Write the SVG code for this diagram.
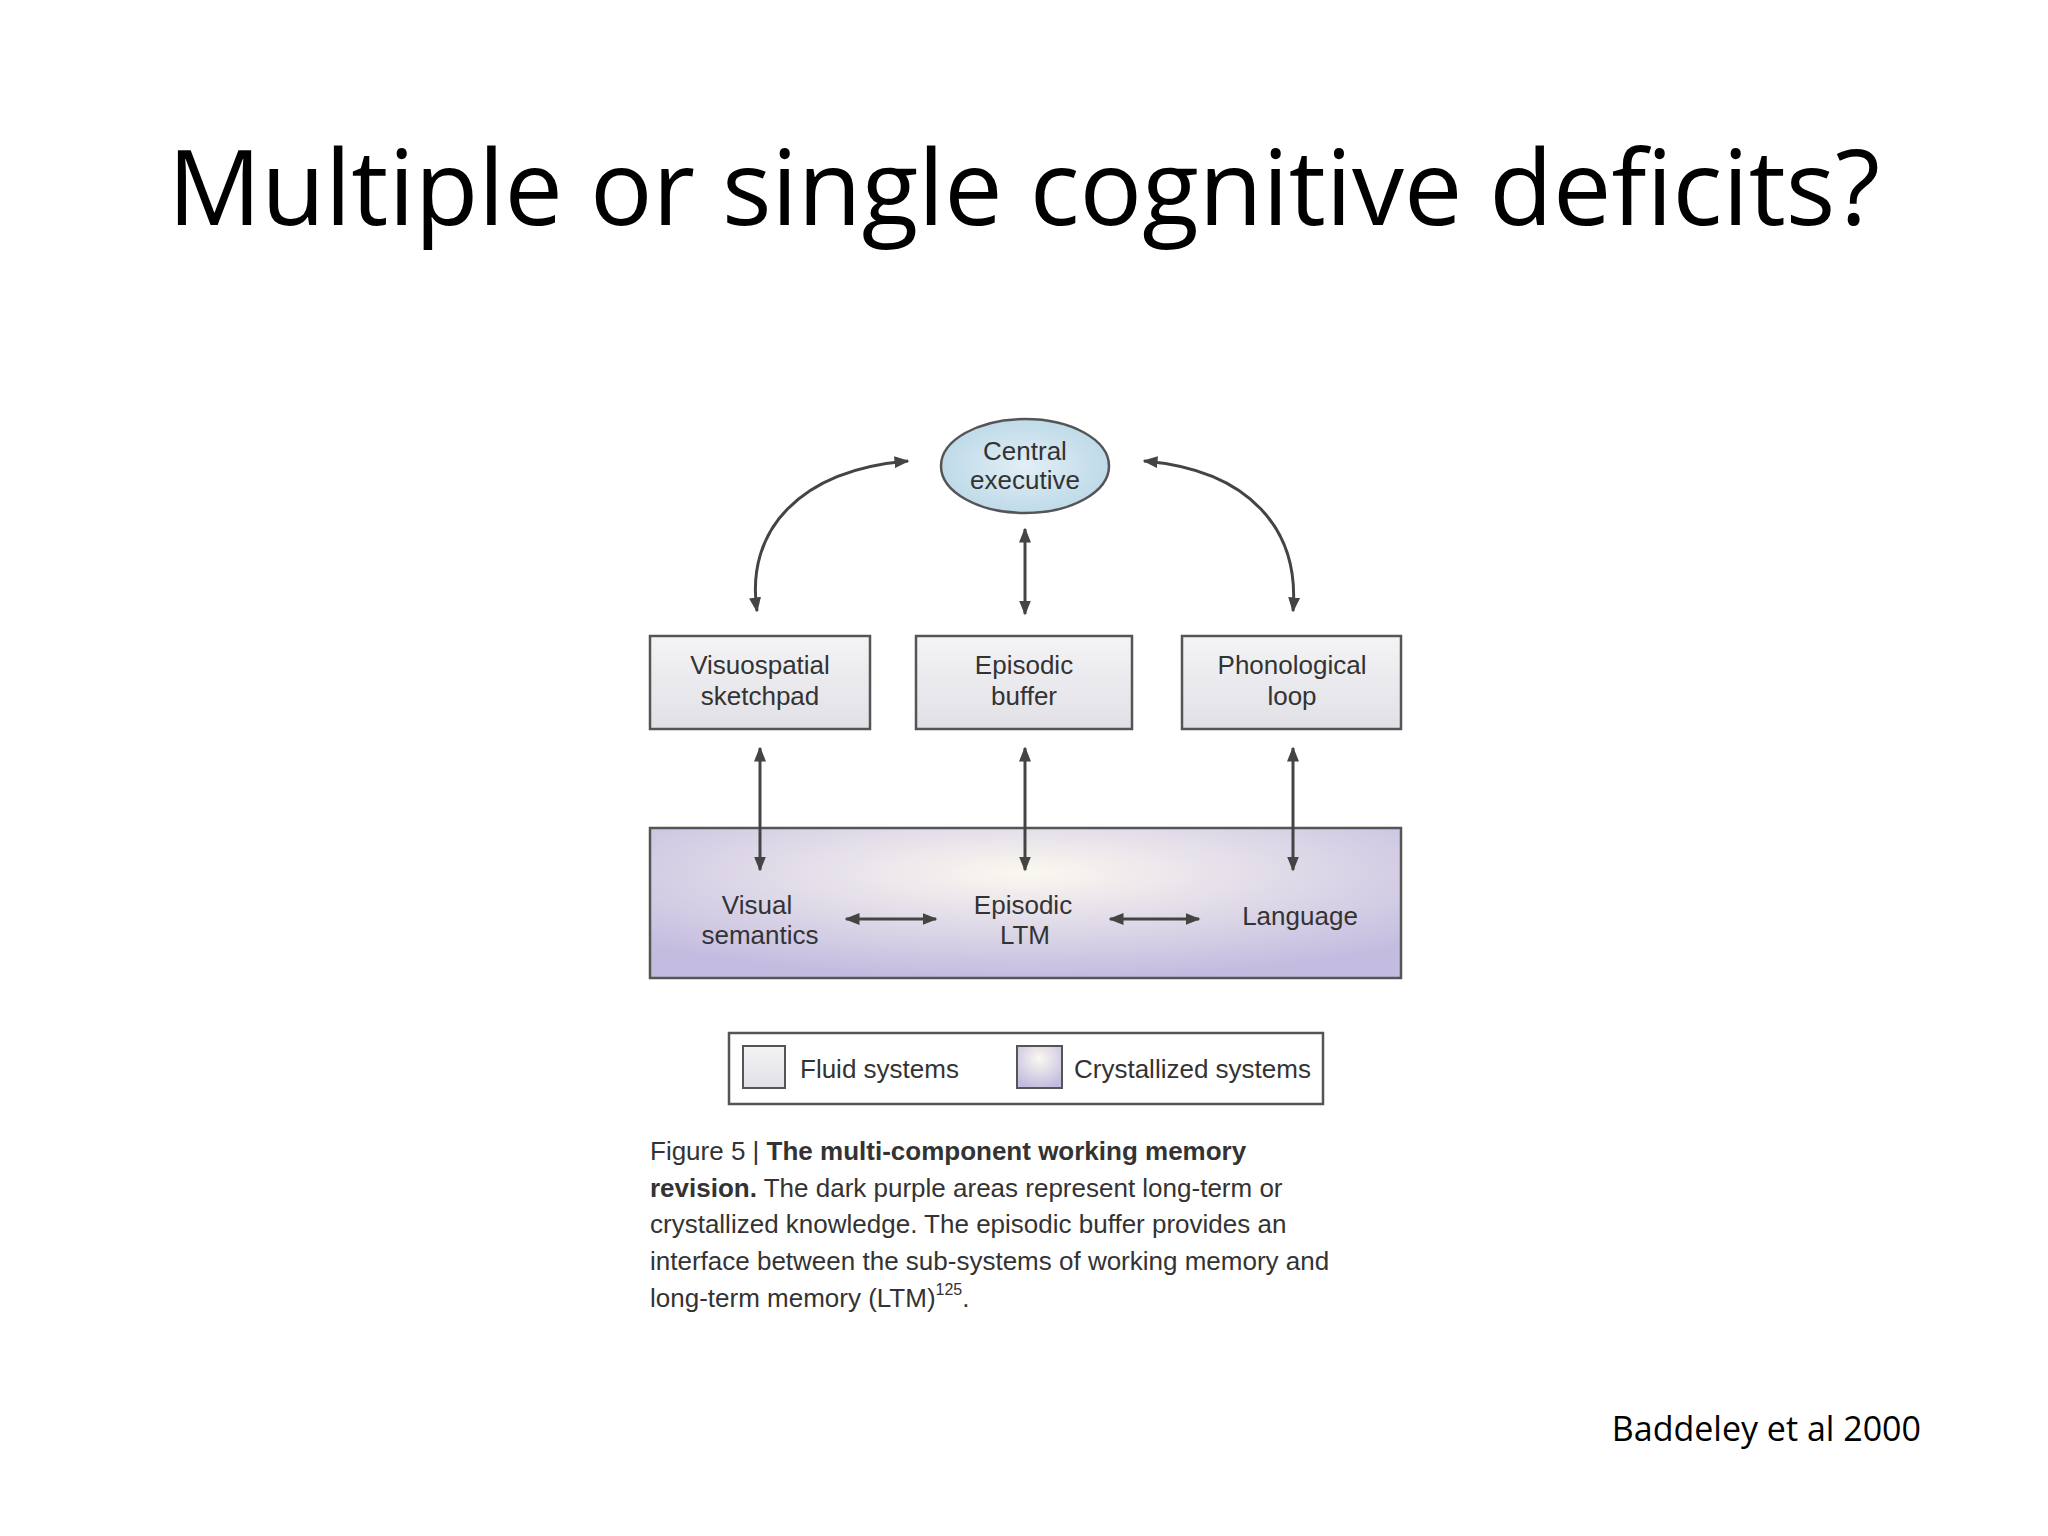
<svg xmlns="http://www.w3.org/2000/svg" width="2048" height="1536" viewBox="0 0 2048 1536">
<style>
.t{font-family:"Liberation Sans",Arial,sans-serif;fill:#333;font-size:26px;text-anchor:middle}
.c{font-family:"Liberation Sans",Arial,sans-serif;fill:#333;font-size:26px}
.box{fill:url(#gb);stroke:#555;stroke-width:2.5}
.ln{stroke:#444;stroke-width:3;fill:none;marker-start:url(#a);marker-end:url(#a)}
.ln1{stroke:#444;stroke-width:3;fill:none;marker-end:url(#a)}
</style>
<defs>
<marker id="a" viewBox="0 0 10 10" refX="9" refY="5" markerWidth="5" markerHeight="5" orient="auto-start-reverse"><path d="M0,1 L10,5 L0,9 z" fill="#444"/></marker>
<linearGradient id="gb" x1="0" y1="0" x2="0" y2="1"><stop offset="0" stop-color="#f4f4f6"/><stop offset="1" stop-color="#e0e0e6"/></linearGradient>
<radialGradient id="gp" cx="0.5" cy="0.3" r="0.7"><stop offset="0" stop-color="#fbf8f0"/><stop offset="1" stop-color="#c4bce0"/></radialGradient>
<radialGradient id="ge" cx="0.5" cy="0.5" r="0.6"><stop offset="0" stop-color="#e2eff6"/><stop offset="1" stop-color="#b8d6e6"/></radialGradient>
</defs>
<rect width="2048" height="1536" fill="#fff"/>
<text x="1024" y="225" font-family="'Open Sans',Lato,sans-serif" font-size="104" text-anchor="middle" fill="#000">Multiple or single cognitive deficits?</text>
<g id="central"><ellipse cx="1025" cy="466" rx="84" ry="47" fill="url(#ge)" stroke="#555" stroke-width="2.5"/><text class="t" x="1025" y="460">Central</text><text class="t" x="1025" y="489">executive</text></g>
<g id="visuo"><rect class="box" x="650" y="636" width="220" height="93"/><text class="t" x="760" y="674">Visuospatial</text><text class="t" x="760" y="705">sketchpad</text></g>
<g id="buffer"><rect class="box" x="916" y="636" width="216" height="93"/><text class="t" x="1024" y="674">Episodic</text><text class="t" x="1024" y="705">buffer</text></g>
<g id="phono"><rect class="box" x="1182" y="636" width="219" height="93"/><text class="t" x="1292" y="674">Phonological</text><text class="t" x="1292" y="705">loop</text></g>
<g id="ltm"><rect x="650" y="828" width="751" height="150" fill="url(#gp)" stroke="#555" stroke-width="2.5"/>
<text class="t" x="757" y="914">Visual</text><text class="t" x="760" y="944">semantics</text>
<text class="t" x="1023" y="914">Episodic</text><text class="t" x="1025" y="944">LTM</text>
<text class="t" x="1300" y="925">Language</text></g>
<g id="connectors">
<path class="ln" d="M1025,529 L1025,614"/>
<path class="ln" d="M757,611 C745,530 800,470 908,461"/>
<path class="ln" d="M1293,611 C1300,530 1250,470 1144,461"/>
<path class="ln" d="M760,748 L760,870"/>
<path class="ln" d="M1025,748 L1025,870"/>
<path class="ln" d="M1293,748 L1293,870"/>
<path class="ln" d="M846,919 L936,919"/>
<path class="ln" d="M1110,919 L1199,919"/>
</g>
<g id="legend"><rect x="729" y="1033" width="594" height="71" fill="#fff" stroke="#555" stroke-width="2.5"/>
<rect x="743" y="1046" width="42" height="42" fill="url(#gb)" stroke="#555" stroke-width="2"/><text class="c" x="800" y="1078">Fluid systems</text>
<rect x="1017" y="1046" width="45" height="42" fill="url(#gp)" stroke="#555" stroke-width="2"/><text class="c" x="1074" y="1078">Crystallized systems</text></g>
<g id="caption">
<text class="c" x="650" y="1160"><tspan>Figure 5 | </tspan><tspan font-weight="bold">The multi-component working memory</tspan></text>
<text class="c" x="650" y="1197"><tspan font-weight="bold">revision.</tspan> The dark purple areas represent long-term or</text>
<text class="c" x="650" y="1233">crystallized knowledge. The episodic buffer provides an</text>
<text class="c" x="650" y="1270">interface between the sub-systems of working memory and</text>
<text class="c" x="650" y="1307">long-term memory (LTM)<tspan font-size="16" dy="-12">125</tspan><tspan dy="12">.</tspan></text>
</g>
<text x="1921" y="1441" font-family="'Open Sans',Lato,sans-serif" font-size="34" text-anchor="end" fill="#000">Baddeley et al 2000</text>
</svg>
